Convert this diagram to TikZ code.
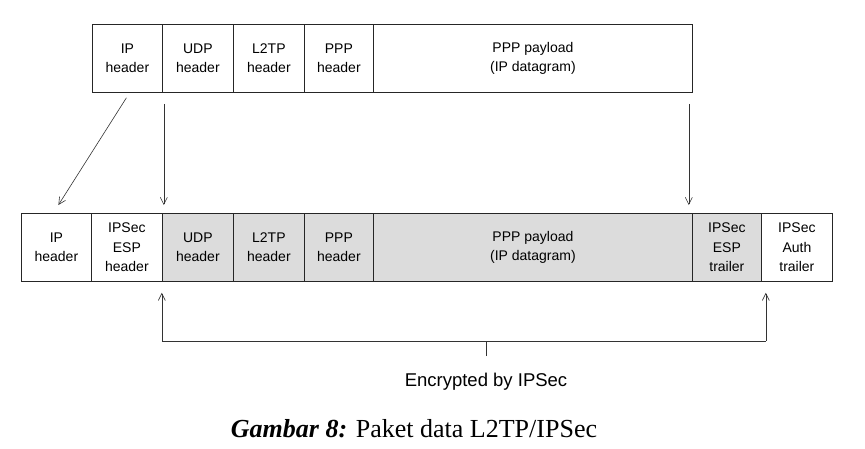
\documentclass[tikz,border=0pt]{standalone}
\usepackage{fontspec}
\setmainfont{Liberation Serif}
\setsansfont{Liberation Sans}
\usetikzlibrary{arrows.meta,calc}
\definecolor{enc}{HTML}{DCDCDC}
\begin{document}
\begin{tikzpicture}[x=1pt,y=-1pt,
  cell/.style={draw=black!85,line width=0.8pt,anchor=north west,inner sep=0pt,minimum height=68pt,
    align=center,font=\sffamily\fontsize{14}{19.5}\selectfont},
  encr/.style={cell,fill=enc},
  conn/.style={draw=black!80,line width=0.6pt,-{Straight Barb[length=7pt,width=7pt,line width=0.6pt]}},
  plain/.style={draw=black!80,line width=0.7pt}]
\useasboundingbox (0,0) rectangle (865,448);
% top packet
\node[cell,minimum width=70pt] (t1) at (92,24) {IP\\header};
\node[cell,minimum width=71pt] (t2) at (162,24) {UDP\\header};
\node[cell,minimum width=71pt] (t3) at (233,24) {L2TP\\header};
\node[cell,minimum width=69pt] (t4) at (304,24) {PPP\\header};
\node[cell,minimum width=319pt] (t5) at (373,24) {PPP payload\\(IP datagram)};
% bottom packet
\node[cell,minimum width=70pt] (b1) at (21,213) {IP\\header};
\node[cell,minimum width=71pt] (b2) at (91,213) {IPSec\\ESP\\header};
\node[encr,minimum width=71pt] (b3) at (162,213) {UDP\\header};
\node[encr,minimum width=71pt] (b4) at (233,213) {L2TP\\header};
\node[encr,minimum width=69pt] (b5) at (304,213) {PPP\\header};
\node[encr,minimum width=319pt] (b6) at (373,213) {PPP payload\\(IP datagram)};
\node[encr,minimum width=69pt] (b7) at (692,213) {IPSec\\ESP\\trailer};
\node[cell,minimum width=71pt] (b8) at (761,213) {IPSec\\Auth\\trailer};
% connectors
\coordinate (d1) at ($(t1.south)+(-1,5)$);
\coordinate (d2) at ($(b1.north)+(2,-8)$);
\draw[conn] (d1) -- (d2);
\coordinate (v1) at ($(t1.south east)+(1,11)$);
\coordinate (v2) at ($(b2.north east)+(1,-8)$);
\draw[conn] (v1) -- (v2);
\coordinate (w1) at ($(t5.south east)+(-4,11)$);
\coordinate (w2) at ($(b6.north east)+(-4,-8)$);
\draw[conn] (w1) -- (w2);
% encrypted bracket
\node[font=\sffamily\fontsize{18.5}{22}\selectfont] (lab) at (486,382) {Encrypted by IPSec};
\coordinate (m1) at (486,356);
\coordinate (m2) at (486,341);
\coordinate (l1) at ($(b2.south east)+(-1,0)$);
\coordinate (r1) at ($(b7.south east)+(4,0)$);
\coordinate (lb) at (l1 |- m2);
\coordinate (rb) at (r1 |- m2);
\draw[plain] (m1) -- (m2);
\draw[conn] (lb) -- ($(l1)+(0,11)$);
\draw[conn] (rb) -- ($(r1)+(0,11)$);
\draw[plain] (lb) -- (rb);
% caption
\node[font=\fontsize{26}{30}\selectfont] (cap) at (414,429) {\textbf{\textit{Gambar 8:}} Paket data L2TP/IPSec};
\end{tikzpicture}
\end{document}
